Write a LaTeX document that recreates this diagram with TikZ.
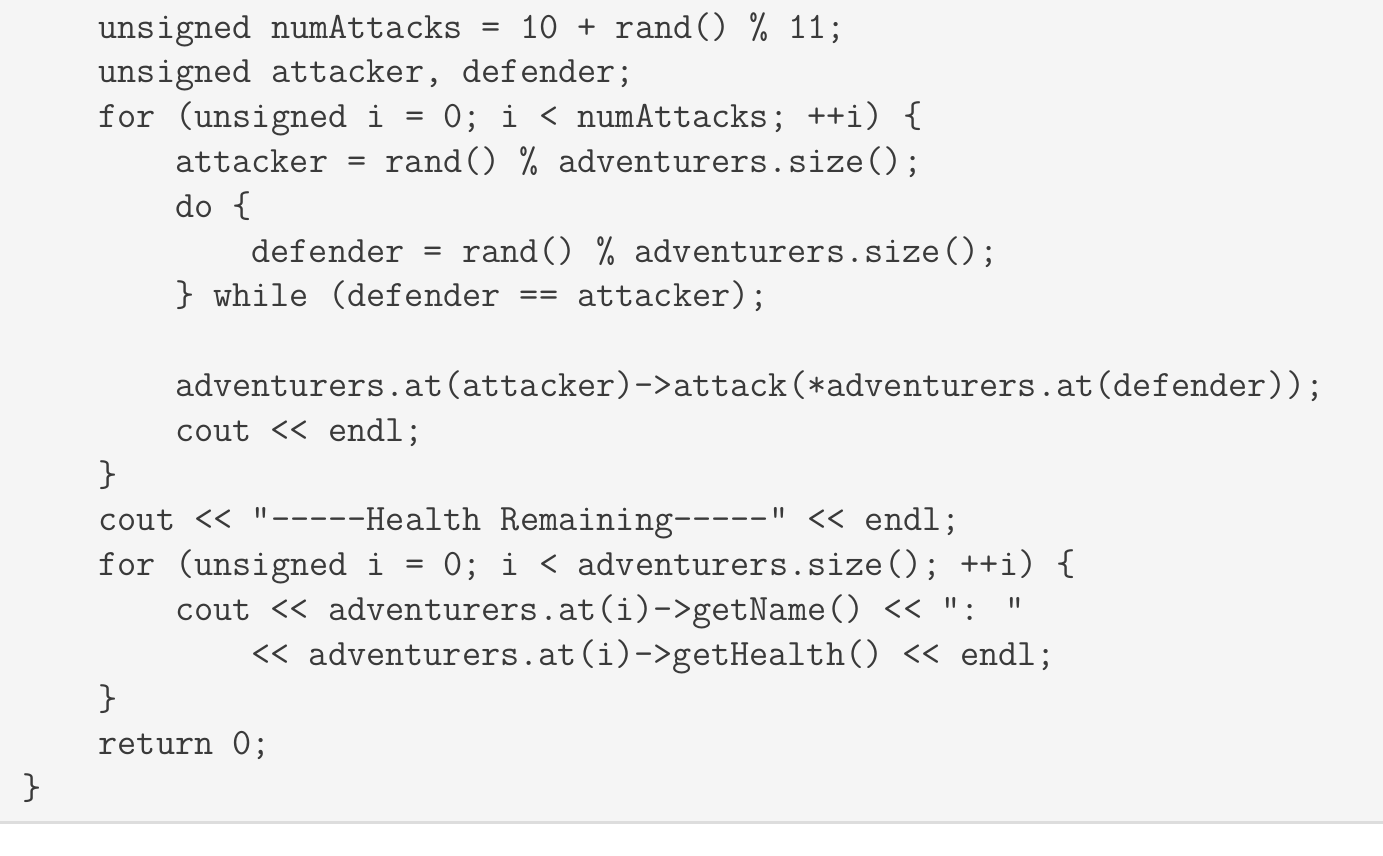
\documentclass[tikz,border=0pt]{standalone}
\usepackage{fontspec}
\definecolor{bg}{HTML}{F5F5F5}
\definecolor{rule}{HTML}{DDDDDD}
\definecolor{txt}{HTML}{3A3A3A}
\begin{document}
\begin{tikzpicture}[x=1pt,y=1pt,
  codeline/.style={anchor=base west,inner sep=0pt,text=txt,font=\ttfamily\fontsize{37.2}{40}\selectfont}]
\useasboundingbox (0,0) rectangle (1383,-855);
\fill[bg] (0,0) rectangle (1383,-821);
\fill[rule] (0,-821) rectangle (1383,-823.5);
\def\cw{19.1}
\def\ln#1#2#3{\node[codeline] (l#1) at ({22+#2*\cw},{-38-44.8*#1}) {#3};}
\ln{0}{4}{unsigned numAttacks = 10 + rand() \% 11;}
\ln{1}{4}{unsigned attacker, defender;}
\ln{2}{4}{for (unsigned i = 0; i < numAttacks; ++i) \{}
\ln{3}{8}{attacker = rand() \% adventurers.size();}
\ln{4}{8}{do \{}
\ln{5}{12}{defender = rand() \% adventurers.size();}
\ln{6}{8}{\} while (defender == attacker);}
\ln{8}{8}{adventurers.at(attacker)->attack(*adventurers.at(defender));}
\ln{9}{8}{cout << endl;}
\ln{10}{4}{\}}
\ln{11}{4}{cout << "-----Health Remaining-----" << endl;}
\ln{12}{4}{for (unsigned i = 0; i < adventurers.size(); ++i) \{}
\ln{13}{8}{cout << adventurers.at(i)->getName() << ": "}
\ln{14}{12}{<< adventurers.at(i)->getHealth() << endl;}
\ln{15}{4}{\}}
\ln{16}{4}{return 0;}
\ln{17}{0}{\}}
\end{tikzpicture}
\end{document}
